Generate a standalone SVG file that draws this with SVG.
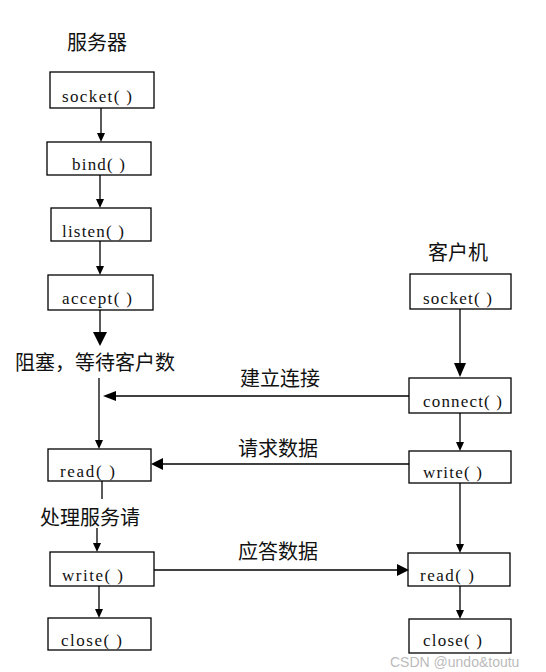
<svg xmlns="http://www.w3.org/2000/svg" width="546" height="672" viewBox="0 0 546 672">
<style>
.box{fill:#fff;stroke:#000;stroke-width:1.3}
.fn{font-family:"Liberation Serif","DejaVu Serif",serif;font-size:17px;fill:#111}
.cn{font-family:"Noto Sans CJK SC","Noto Sans",sans-serif;font-size:20px;fill:#111}
.ln{stroke:#000;stroke-width:1.3;fill:none}
.ah{fill:#000}
</style>
<rect width="546" height="672" fill="#fff"/>
<text class="cn" x="97" y="50" text-anchor="middle">服务器</text>
<text class="cn" x="458" y="260" text-anchor="middle">客户机</text>
<g id="s_socket"><rect class="box" x="50" y="72" width="104" height="36"/><text class="fn" x="62" y="102" textLength="70">socket( )</text></g>
<g id="s_bind"><rect class="box" x="47" y="142" width="104" height="33"/><text class="fn" x="72" y="170" textLength="53">bind( )</text></g>
<g id="s_listen"><rect class="box" x="51" y="208" width="100" height="33"/><text class="fn" x="62" y="237" textLength="62">listen( )</text></g>
<g id="s_accept"><rect class="box" x="48" y="275" width="105" height="35"/><text class="fn" x="62" y="304" textLength="70">accept( )</text></g>
<g id="s_block"><text class="cn" x="15" y="370">阻塞，等待客户数</text></g>
<g id="s_read"><rect class="box" x="48" y="449" width="103" height="32"/><text class="fn" x="60" y="477" textLength="55">read( )</text></g>
<g id="s_proc"><text class="cn" x="40" y="525">处理服务请</text></g>
<g id="s_write"><rect class="box" x="50" y="552" width="104" height="34"/><text class="fn" x="62" y="581" textLength="61">write( )</text></g>
<g id="s_close"><rect class="box" x="48" y="618" width="103" height="32"/><text class="fn" x="61" y="646" textLength="61">close( )</text></g>
<g id="c_socket"><rect class="box" x="410" y="274" width="101" height="35"/><text class="fn" x="423" y="304" textLength="69">socket( )</text></g>
<g id="c_connect"><rect class="box" x="409" y="378" width="102" height="35"/><text class="fn" x="423" y="407" textLength="79">connect( )</text></g>
<g id="c_write"><rect class="box" x="409" y="451" width="102" height="32"/><text class="fn" x="423" y="478" textLength="59">write( )</text></g>
<g id="c_read"><rect class="box" x="408" y="553" width="102" height="33"/><text class="fn" x="420" y="581" textLength="54">read( )</text></g>
<g id="c_close"><rect class="box" x="409" y="619" width="102" height="34"/><text class="fn" x="423" y="646" textLength="59">close( )</text></g>
<g id="connectors">
<line class="ln" x1="101" y1="108" x2="101" y2="134"/><polygon class="ah" points="97,133 105,133 101,142"/>
<line class="ln" x1="100" y1="175" x2="100" y2="200"/><polygon class="ah" points="96,199 104,199 100,208"/>
<line class="ln" x1="100" y1="241" x2="100" y2="267"/><polygon class="ah" points="96,266 104,266 100,275"/>
<line class="ln" x1="100" y1="310" x2="100" y2="334"/><polygon class="ah" points="93,332 107,332 100,346"/>
<line class="ln" x1="99" y1="378" x2="99" y2="441"/><polygon class="ah" points="95,440 103,440 99,449"/>
<line class="ln" x1="114" y1="396" x2="409" y2="396"/><polygon class="ah" points="116,391 116,401 103,396"/>
<text class="cn" x="240" y="386">建立连接</text>
<line class="ln" x1="163" y1="464" x2="409" y2="464"/><polygon class="ah" points="163,458 163,470 151,464"/>
<text class="cn" x="238" y="456">请求数据</text>
<line class="ln" x1="102" y1="481" x2="102" y2="499"/>
<line class="ln" x1="97" y1="528" x2="97" y2="544"/><polygon class="ah" points="93,543 101,543 97,552"/>
<line class="ln" x1="154" y1="570" x2="399" y2="570"/><polygon class="ah" points="397,564 397,576 409,570"/>
<text class="cn" x="238" y="559">应答数据</text>
<line class="ln" x1="99" y1="586" x2="99" y2="610"/><polygon class="ah" points="95,609 103,609 99,618"/>
<line class="ln" x1="460" y1="309" x2="460" y2="365"/><polygon class="ah" points="454,363 466,363 460,377"/>
<line class="ln" x1="460" y1="413" x2="460" y2="443"/><polygon class="ah" points="456,442 464,442 460,451"/>
<line class="ln" x1="460" y1="483" x2="460" y2="545"/><polygon class="ah" points="456,544 464,544 460,553"/>
<line class="ln" x1="460" y1="586" x2="460" y2="611"/><polygon class="ah" points="456,610 464,610 460,619"/>
</g>
<text x="390" y="667" font-family="Liberation Sans,Arial,sans-serif" font-size="14" fill="#bbb">CSDN @undo&amp;toutu</text>
</svg>
